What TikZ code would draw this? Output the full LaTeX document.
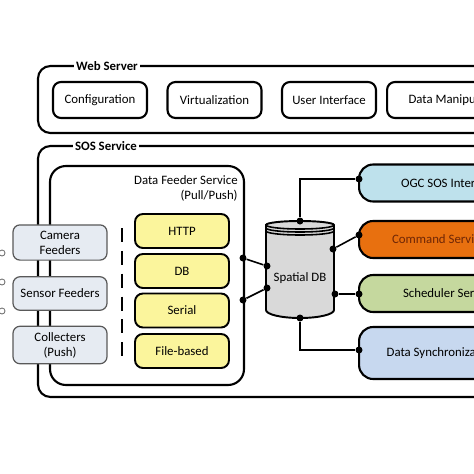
\documentclass[tikz,border=0pt]{standalone}
\usepackage{fontspec}
\setmainfont{Carlito}
\usetikzlibrary{positioning,calc}
\definecolor{feedgray}{HTML}{E6EBF2}
\definecolor{protoyel}{HTML}{FBF59C}
\definecolor{dbgray}{HTML}{D9D9D9}
\definecolor{ogcblue}{HTML}{BEE1EC}
\definecolor{cmdorange}{HTML}{E8700F}
\definecolor{cmdtext}{HTML}{6E2606}
\definecolor{schedgreen}{HTML}{C5D89E}
\definecolor{syncblue}{HTML}{C7D8EF}
\newcommand{\diagfont}{\fontsize{7.3}{8.6}\selectfont}
\tikzstyle{grp}= [draw, line width=1.2pt, rounded corners=7pt, inner sep=0pt]
\tikzstyle{grplabel}= [fill=white, inner xsep=1pt, inner ysep=0pt, font=\diagfont\bfseries]
\tikzstyle{web}= [draw, line width=1.2pt, rounded corners=4.5pt, minimum width=1.88cm, minimum height=0.72cm]
\tikzstyle{feeder}= [draw=black!65, line width=0.7pt, fill=feedgray, rounded corners=4pt, minimum width=1.88cm, minimum height=0.67cm, align=center]
\tikzstyle{proto}= [draw, line width=1.1pt, fill=protoyel, rounded corners=4.5pt, minimum width=1.88cm, minimum height=0.68cm]
\tikzstyle{svc}= [draw, line width=1.2pt, rounded corners=8pt, minimum height=0.74cm, anchor=west]
\tikzstyle{dot}= [circle, fill, inner sep=0pt, minimum size=0.14cm]
\tikzstyle{port}= [circle, draw=black!55, line width=0.5pt, inner sep=0pt, minimum size=0.12cm]
\tikzstyle{wire}= [line width=0.9pt]

\begin{document}
\begin{tikzpicture}[x=0.02cm, y=-0.02cm, font=\diagfont]
	\useasboundingbox (0,0) rectangle (474,474);
	\clip (0,0) rectangle (474,474);
	% web server
	\node[grp, minimum width=9.2cm, minimum height=1.34cm] (websrv) at (268,99.5) {};
	\node[grplabel] (weblbl) at (107,66) {Web Server};
	\node[web] (config) at (100,100) {Configuration};
	\node[web] (virt) at (214.5,100) {Virtualization};
	\node[web] (ui) at (329,100) {User Interface};
	\node[web, minimum width=2.8cm, anchor=west] (manip) at (386,100) {Data Manipulation};
	% sos service
	\node[grp, minimum width=9.2cm, minimum height=5.02cm] (sos) at (268,271.5) {};
	\node[grplabel] (soslbl) at (106,146) {SOS Service};
	\node[grp, rounded corners=9pt, minimum width=3.88cm, minimum height=4.38cm] (dfs) at (147,275.5) {};
	\node[align=right, anchor=north east, inner sep=0pt] (dfslbl) at (238,175) {Data Feeder Service\\(Pull/Push)};
	\node[proto] (http) at (182,231) {HTTP};
	\node[proto] (dbp) at (182,271) {DB};
	\node[proto] (serial) at (182,310.5) {Serial};
	\node[proto] (file) at (182,351) {File-based};
	\coordinate (dtop) at (122,228);
	\coordinate (dbot) at (122,357);
	\draw[line width=1.1pt, dash pattern=on 8pt off 5pt] (dtop) -- (dbot);
	% feeders
	\node[feeder] (camera) at (60,242.5) {Camera\\Feeders};
	\node[feeder] (sensor) at (60,293.5) {Sensor Feeders};
	\node[feeder] (collect) at (60,345) {Collecters\\(Push)};
	\node[port] (p1) at (2,253) {};
	\node[port] (p2) at (2,282) {};
	\node[port] (p3) at (2,311) {};
	% spatial db
	\draw[line width=1.1pt, fill=dbgray] (266,225) -- (266,310) arc[start angle=180, end angle=360, x radius=0.68cm, y radius=0.16cm] -- (334,225) arc[start angle=0, end angle=180, x radius=0.68cm, y radius=0.08cm] -- cycle;
	\draw[line width=0.9pt] (266,225) arc[start angle=180, end angle=360, x radius=0.68cm, y radius=0.08cm];
	\draw[line width=0.9pt] (266,228) arc[start angle=180, end angle=360, x radius=0.68cm, y radius=0.08cm];
	\draw[line width=0.9pt] (266,231) arc[start angle=180, end angle=360, x radius=0.68cm, y radius=0.08cm];
	\node (db) at (300,278) {Spatial DB};
	% services
	\node[svc, fill=ogcblue, minimum width=3.6cm] (ogc) at (358,183) {OGC SOS Interface};
	\node[svc, fill=cmdorange, text=cmdtext, minimum width=3.2cm] (cmd) at (358,239.5) {Command Service};
	\node[svc, fill=schedgreen, minimum width=3.6cm] (sched) at (358,293.5) {Scheduler Service};
	\node[svc, fill=syncblue, minimum height=1.04cm, minimum width=3.3cm] (sync) at (358,353) {Data Synchronization};
	% connectors
	\node[dot] (f1) at (243,258) {};
	\node[dot] (f2) at (243,300) {};
	\node[dot] (d1) at (267,266) {};
	\node[dot] (d2) at (267,288) {};
	\node[dot] (dtopdot) at (300,221) {};
	\node[dot] (dr1) at (333,249) {};
	\node[dot] (dr2) at (335,294) {};
	\node[dot] (dbotdot) at (300,318) {};
	\node[dot] (s1) at (359,179) {};
	\node[dot] (s2) at (359,235) {};
	\node[dot] (s3) at (359,294) {};
	\node[dot] (s4) at (359,350) {};
	\draw[wire] (f1) -- (d1);
	\draw[wire] (f2) -- (d2);
	\draw[wire] (dtopdot) |- (s1);
	\draw[wire] (dr1) -- (s2);
	\draw[wire] (dr2) -- (s3);
	\draw[wire] (dbotdot) |- (s4);
\end{tikzpicture}
\end{document}
